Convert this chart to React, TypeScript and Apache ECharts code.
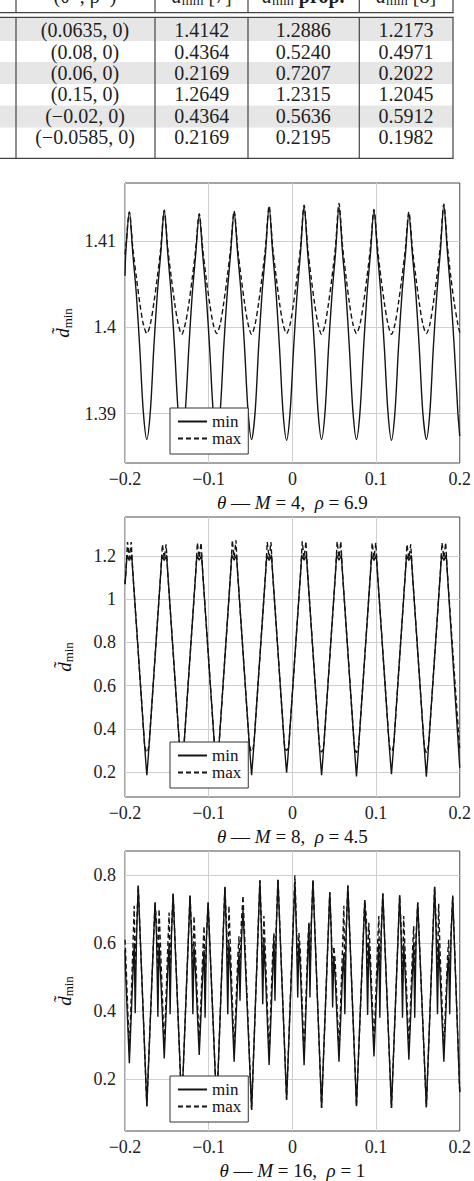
import React, { useEffect, useRef } from 'react';
import * as echarts from 'echarts';

const FONT = 'Liberation Serif';
const INK = '#141414';

// ---------- table (top of page) ----------
const tableHeaders = ['(θ*, ρ*)', '{i|d̃}{s|min} [7]', '{i|d̃}{s|min} {b|prop.}', '{i|d̃}{s|min} [8]'];
const tableCoords = ['(0.0635, 0)', '(0.08, 0)', '(0.06, 0)', '(0.15, 0)', '(−0.02, 0)', '(−0.0585, 0)'];
const tableColA = ['1.4142', '0.4364', '0.2169', '1.2649', '0.4364', '0.2169'];
const tableColB = ['1.2886', '0.5240', '0.7207', '1.2315', '0.5636', '0.2195'];
const tableColC = ['1.2173', '0.4971', '0.2022', '1.2045', '0.5912', '0.1982'];

// ---------- panel 1 : M = 4, rho = 6.9 ----------
const theta1 = [
  -0.2000, -0.1990, -0.1948, -0.1906, -0.1864, -0.1823, -0.1781, -0.1739,
  -0.1697, -0.1656, -0.1614, -0.1572, -0.1531, -0.1489, -0.1447, -0.1406, -0.1364, -0.1322,
  -0.1280, -0.1238, -0.1197, -0.1155, -0.1113, -0.1071, -0.1030, -0.0988, -0.0946, -0.0904,
  -0.0862, -0.0821, -0.0779, -0.0738, -0.0696, -0.0654, -0.0612, -0.0571, -0.0529, -0.0487,
  -0.0445, -0.0404, -0.0362, -0.0320, -0.0278, -0.0236, -0.0194, -0.0153, -0.0111, -0.0069,
  -0.0027, 0.0014, 0.0056, 0.0098, 0.0140, 0.0182, 0.0223, 0.0265, 0.0307, 0.0349,
  0.0391, 0.0432, 0.0474, 0.0516, 0.0557, 0.0599, 0.0641, 0.0682, 0.0724, 0.0766,
  0.0808, 0.0850, 0.0891, 0.0933, 0.0975, 0.1017, 0.1058, 0.1100, 0.1142, 0.1184,
  0.1226, 0.1267, 0.1309, 0.1351, 0.1392, 0.1434, 0.1476, 0.1517, 0.1559, 0.1601,
  0.1643, 0.1684, 0.1726, 0.1768, 0.1810, 0.1852, 0.1893, 0.1935, 0.1977, 0.2000,
];
const min1 = [
  1.4060, 1.4088, 1.4134, 1.4085, 1.4038, 1.3975, 1.3902, 1.3870,
  1.3903, 1.3976, 1.4039, 1.4087, 1.4136, 1.4086, 1.4037, 1.3974, 1.3901, 1.3869,
  1.3902, 1.3975, 1.4038, 1.4085, 1.4131, 1.4084, 1.4038, 1.3975, 1.3902, 1.3870,
  1.3903, 1.3976, 1.4039, 1.4086, 1.4134, 1.4086, 1.4039, 1.3976, 1.3902, 1.3870,
  1.3902, 1.3976, 1.4040, 1.4088, 1.4140, 1.4088, 1.4039, 1.3975, 1.3901, 1.3869,
  1.3902, 1.3975, 1.4039, 1.4088, 1.4141, 1.4088, 1.4039, 1.3976, 1.3902, 1.3870,
  1.3903, 1.3976, 1.4039, 1.4087, 1.4140, 1.4087, 1.4039, 1.3975, 1.3902, 1.3870,
  1.3902, 1.3975, 1.4038, 1.4086, 1.4136, 1.4086, 1.4038, 1.3975, 1.3902, 1.3869,
  1.3902, 1.3975, 1.4038, 1.4085, 1.4132, 1.4085, 1.4038, 1.3975, 1.3901, 1.3870,
  1.3902, 1.3976, 1.4039, 1.4088, 1.4142, 1.4088, 1.4039, 1.3976, 1.3902, 1.3874,
];
const max1 = [
  1.4085, 1.4094, 1.4134, 1.4092, 1.4058, 1.4028, 1.4004, 1.3993,
  1.4004, 1.4028, 1.4058, 1.4093, 1.4136, 1.4092, 1.4058, 1.4028, 1.4004, 1.3992,
  1.4004, 1.4027, 1.4057, 1.4091, 1.4132, 1.4091, 1.4057, 1.4028, 1.4004, 1.3993,
  1.4004, 1.4028, 1.4058, 1.4092, 1.4135, 1.4092, 1.4058, 1.4028, 1.4004, 1.3992,
  1.4004, 1.4028, 1.4059, 1.4094, 1.4141, 1.4094, 1.4059, 1.4028, 1.4004, 1.3993,
  1.4004, 1.4028, 1.4059, 1.4094, 1.4142, 1.4094, 1.4059, 1.4028, 1.4004, 1.3992,
  1.4004, 1.4028, 1.4059, 1.4095, 1.4144, 1.4095, 1.4059, 1.4028, 1.4004, 1.3993,
  1.4004, 1.4028, 1.4058, 1.4093, 1.4137, 1.4093, 1.4058, 1.4028, 1.4004, 1.3992,
  1.4004, 1.4028, 1.4058, 1.4092, 1.4134, 1.4092, 1.4058, 1.4028, 1.4004, 1.3993,
  1.4004, 1.4028, 1.4059, 1.4095, 1.4143, 1.4095, 1.4059, 1.4028, 1.4004, 1.3994,
];
const yTicks1 = [1.39, 1.4, 1.41];

// ---------- panel 2 : M = 8, rho = 4.5 ----------
const theta2 = [
  -0.2000, -0.1990, -0.1976, -0.1970, -0.1948, -0.1926, -0.1920, -0.1906, -0.1767, -0.1752, -0.1739,
  -0.1726, -0.1711, -0.1573, -0.1559, -0.1553, -0.1531, -0.1509, -0.1503, -0.1489, -0.1350, -0.1335, -0.1322,
  -0.1309, -0.1294, -0.1155, -0.1141, -0.1135, -0.1113, -0.1091, -0.1085, -0.1071, -0.0932, -0.0917, -0.0904,
  -0.0891, -0.0876, -0.0738, -0.0724, -0.0718, -0.0696, -0.0674, -0.0668, -0.0654, -0.0515, -0.0500, -0.0487,
  -0.0474, -0.0459, -0.0320, -0.0306, -0.0300, -0.0278, -0.0256, -0.0250, -0.0236, -0.0097, -0.0082, -0.0069,
  -0.0056, -0.0041, 0.0098, 0.0112, 0.0118, 0.0140, 0.0162, 0.0168, 0.0182, 0.0321, 0.0336, 0.0349,
  0.0362, 0.0377, 0.0515, 0.0529, 0.0535, 0.0557, 0.0579, 0.0585, 0.0599, 0.0738, 0.0753, 0.0766,
  0.0779, 0.0794, 0.0933, 0.0947, 0.0953, 0.0975, 0.0997, 0.1003, 0.1017, 0.1156, 0.1171, 0.1184,
  0.1197, 0.1212, 0.1350, 0.1364, 0.1370, 0.1392, 0.1414, 0.1420, 0.1434, 0.1573, 0.1588, 0.1601,
  0.1614, 0.1629, 0.1768, 0.1782, 0.1788, 0.1810, 0.1832, 0.1838, 0.1852, 0.2000,
];
const min2 = [
  1.070, 1.121, 1.205, 1.198, 1.180, 1.198, 1.206, 1.121, 0.330, 0.250, 0.185,
  0.250, 0.330, 1.121, 1.204, 1.197, 1.180, 1.198, 1.205, 1.121, 0.330, 0.248, 0.180,
  0.250, 0.330, 1.121, 1.205, 1.198, 1.181, 1.198, 1.205, 1.121, 0.330, 0.250, 0.182,
  0.250, 0.330, 1.121, 1.206, 1.199, 1.180, 1.199, 1.206, 1.121, 0.330, 0.252, 0.185,
  0.252, 0.330, 1.121, 1.205, 1.198, 1.180, 1.198, 1.205, 1.121, 0.332, 0.258, 0.197,
  0.255, 0.332, 1.121, 1.206, 1.198, 1.181, 1.198, 1.206, 1.121, 0.330, 0.250, 0.185,
  0.250, 0.330, 1.121, 1.206, 1.199, 1.180, 1.199, 1.206, 1.121, 0.330, 0.248, 0.180,
  0.248, 0.330, 1.121, 1.205, 1.198, 1.180, 1.198, 1.205, 1.121, 0.330, 0.252, 0.190,
  0.252, 0.330, 1.121, 1.204, 1.197, 1.180, 1.197, 1.204, 1.121, 0.330, 0.247, 0.178,
  0.247, 0.330, 1.121, 1.205, 1.198, 1.180, 1.198, 1.205, 1.121, 0.220,
];
const max2 = [
  1.070, 1.121, 1.222, 1.265, 1.190, 1.265, 1.222, 1.121, 0.330, 0.300, 0.290,
  0.300, 0.330, 1.121, 1.218, 1.254, 1.188, 1.254, 1.218, 1.121, 0.330, 0.300, 0.292,
  0.300, 0.330, 1.121, 1.221, 1.262, 1.190, 1.262, 1.221, 1.121, 0.330, 0.300, 0.290,
  0.300, 0.330, 1.121, 1.225, 1.273, 1.192, 1.273, 1.225, 1.121, 0.330, 0.302, 0.295,
  0.302, 0.330, 1.121, 1.222, 1.265, 1.190, 1.265, 1.222, 1.121, 0.332, 0.305, 0.300,
  0.305, 0.332, 1.121, 1.223, 1.268, 1.190, 1.268, 1.223, 1.121, 0.330, 0.300, 0.292,
  0.300, 0.330, 1.121, 1.223, 1.268, 1.191, 1.268, 1.223, 1.121, 0.330, 0.300, 0.290,
  0.300, 0.330, 1.121, 1.221, 1.262, 1.190, 1.262, 1.221, 1.121, 0.330, 0.302, 0.295,
  0.302, 0.330, 1.121, 1.218, 1.254, 1.188, 1.254, 1.218, 1.121, 0.330, 0.300, 0.290,
  0.300, 0.330, 1.121, 1.221, 1.262, 1.190, 1.262, 1.221, 1.121, 0.300,
];
const yTicks2 = [0.2, 0.4, 0.6, 0.8, 1, 1.2];

// ---------- panel 3 : M = 16, rho = 1 ----------
const theta3 = [
  -0.2000, -0.1994, -0.1948, -0.1904, -0.1890, -0.1878, -0.1862, -0.1842, -0.1739,
  -0.1641, -0.1623, -0.1607, -0.1593, -0.1577, -0.1531, -0.1487, -0.1473, -0.1461, -0.1445, -0.1425, -0.1322,
  -0.1223, -0.1205, -0.1189, -0.1175, -0.1159, -0.1113, -0.1069, -0.1055, -0.1043, -0.1027, -0.1007, -0.0904,
  -0.0806, -0.0788, -0.0772, -0.0758, -0.0742, -0.0696, -0.0652, -0.0638, -0.0626, -0.0610, -0.0590, -0.0487,
  -0.0388, -0.0370, -0.0354, -0.0340, -0.0324, -0.0278, -0.0234, -0.0220, -0.0208, -0.0192, -0.0172, -0.0069,
  0.0030, 0.0048, 0.0064, 0.0078, 0.0094, 0.0140, 0.0184, 0.0198, 0.0210, 0.0226, 0.0246, 0.0349,
  0.0447, 0.0465, 0.0481, 0.0495, 0.0511, 0.0557, 0.0601, 0.0615, 0.0627, 0.0643, 0.0663, 0.0766,
  0.0865, 0.0883, 0.0899, 0.0913, 0.0929, 0.0975, 0.1019, 0.1033, 0.1045, 0.1061, 0.1081, 0.1184,
  0.1282, 0.1300, 0.1316, 0.1330, 0.1346, 0.1392, 0.1436, 0.1450, 0.1462, 0.1478, 0.1498, 0.1601,
  0.1700, 0.1718, 0.1734, 0.1748, 0.1764, 0.1810, 0.1854, 0.1868, 0.1880, 0.1896, 0.1916, 0.2000,
];
const min3 = [
  0.58, 0.52, 0.246, 0.52, 0.60, 0.393, 0.62, 0.77, 0.119,
  0.72, 0.62, 0.383, 0.60, 0.52, 0.26, 0.53, 0.60, 0.39, 0.62, 0.746, 0.115,
  0.74, 0.62, 0.39, 0.59, 0.52, 0.27, 0.52, 0.58, 0.38, 0.61, 0.72, 0.112,
  0.766, 0.63, 0.39, 0.60, 0.53, 0.25, 0.50, 0.57, 0.43, 0.60, 0.70, 0.109,
  0.785, 0.64, 0.42, 0.61, 0.52, 0.241, 0.52, 0.61, 0.43, 0.64, 0.787, 0.138,
  0.78, 0.64, 0.44, 0.60, 0.53, 0.24, 0.56, 0.66, 0.44, 0.65, 0.785, 0.114,
  0.75, 0.63, 0.41, 0.56, 0.50, 0.25, 0.52, 0.57, 0.39, 0.63, 0.77, 0.119,
  0.727, 0.62, 0.388, 0.60, 0.53, 0.266, 0.53, 0.60, 0.38, 0.62, 0.746, 0.114,
  0.741, 0.62, 0.38, 0.60, 0.52, 0.256, 0.52, 0.60, 0.38, 0.61, 0.72, 0.116,
  0.766, 0.63, 0.39, 0.60, 0.51, 0.25, 0.52, 0.56, 0.39, 0.62, 0.736, 0.16,
];
const max3 = [
  0.61, 0.58, 0.28, 0.60, 0.71, 0.52, 0.64, 0.77, 0.119,
  0.72, 0.66, 0.50, 0.70, 0.60, 0.29, 0.60, 0.69, 0.50, 0.64, 0.746, 0.115,
  0.74, 0.64, 0.50, 0.68, 0.58, 0.30, 0.58, 0.65, 0.48, 0.62, 0.72, 0.112,
  0.766, 0.66, 0.50, 0.71, 0.60, 0.28, 0.56, 0.62, 0.50, 0.66, 0.74, 0.109,
  0.785, 0.66, 0.52, 0.68, 0.58, 0.27, 0.58, 0.63, 0.50, 0.66, 0.79, 0.138,
  0.80, 0.66, 0.52, 0.63, 0.58, 0.27, 0.60, 0.66, 0.50, 0.66, 0.787, 0.114,
  0.75, 0.64, 0.50, 0.59, 0.55, 0.28, 0.60, 0.71, 0.48, 0.64, 0.77, 0.119,
  0.727, 0.68, 0.50, 0.66, 0.58, 0.30, 0.60, 0.68, 0.48, 0.63, 0.746, 0.114,
  0.741, 0.64, 0.48, 0.68, 0.58, 0.29, 0.58, 0.65, 0.48, 0.62, 0.72, 0.116,
  0.766, 0.66, 0.50, 0.716, 0.58, 0.28, 0.56, 0.61, 0.48, 0.63, 0.74, 0.16,
];
const yTicks3 = [0.2, 0.4, 0.6, 0.8];

const seriesNames = ['min', 'max'];
const panelTitles = [
  '{i|θ} — {i|M} = 4,  {i|ρ} = 6.9',
  '{i|θ} — {i|M} = 8,  {i|ρ} = 4.5',
  '{i|θ} — {i|M} = 16,  {i|ρ} = 1',
];

const zip = (xs: number[], ys: number[]) => xs.map((x, i) => [x, ys[i]]);

function buildOption() {
  const panels = [
    { top: 183, yMin: 1.38427, yMax: 1.41677, ticks: yTicks1, xs: theta1, mn: min1, mx: max1, smooth: 0.3 },
    { top: 517, yMin: 0.0843, yMax: 1.3806, ticks: yTicks2, xs: theta2, mn: min2, mx: max2, smooth: false },
    { top: 851, yMin: 0.046, yMax: 0.8716, ticks: yTicks3, xs: theta3, mn: min3, mx: max3, smooth: false },
  ];
  const labelStyle = { fontFamily: FONT, fontSize: 18, color: '#222' };
  const gridLine = { show: true, lineStyle: { color: '#cfcfcf', width: 1 } };

  const grid = panels.map((p) => ({
    left: 125, top: p.top, width: 338, height: 280,
    show: true, borderColor: '#4a4a4a', borderWidth: 1, backgroundColor: 'transparent',
  }));
  const xAxis = panels.map((p, i) => ({
    type: 'value', gridIndex: i, min: -0.2, max: 0.2, interval: 0.1,
    axisLine: { show: false }, axisTick: { show: false }, splitLine: gridLine,
    axisLabel: {
      ...labelStyle, margin: 7,
      formatter: (v: number) => {
        const r = Math.round(v * 10) / 10;
        return r < 0 ? '−' + String(-r) : String(Math.abs(r));
      },
    },
    name: panelTitles[i], nameLocation: 'middle', nameGap: 30,
    nameTextStyle: {
      fontFamily: FONT, fontSize: 19, color: '#111',
      rich: { i: { fontFamily: FONT, fontSize: 19, fontStyle: 'italic', color: '#111' } },
    },
  }));
  const yAxis = panels.map((p, i) => ({
    type: 'value', gridIndex: i, min: p.yMin, max: p.yMax,
    axisLine: { show: false },
    axisTick: { show: false, customValues: p.ticks },
    splitLine: gridLine,
    axisLabel: {
      ...labelStyle, margin: 9, customValues: p.ticks,
      formatter: (v: number) => String(+(+v).toFixed(2)),
    },
    name: '{d|d\u0303}{s|min}', nameLocation: 'middle', nameRotate: 90, nameGap: 50,
    nameTextStyle: {
      fontFamily: FONT, color: '#111',
      rich: {
        d: { fontFamily: FONT, fontSize: 19, fontStyle: 'italic', color: '#111', lineHeight: 22, verticalAlign: 'middle' },
        s: { fontFamily: FONT, fontSize: 13, color: '#111', lineHeight: 13, verticalAlign: 'bottom' },
      },
    },
  }));
  const series: any[] = [];
  panels.forEach((p, i) => {
    series.push({
      type: 'line', name: seriesNames[0], xAxisIndex: i, yAxisIndex: i,
      data: zip(p.xs, p.mn), symbol: 'none', silent: true, z: 3, smooth: p.smooth,
      lineStyle: { color: INK, width: 1.4 }, itemStyle: { color: INK },
    });
    series.push({
      type: 'line', name: seriesNames[1], xAxisIndex: i, yAxisIndex: i,
      data: zip(p.xs, p.mx), symbol: 'none', silent: true, z: 3, smooth: p.smooth,
      lineStyle: { color: INK, width: 1.4, type: [5, 3] }, itemStyle: { color: INK },
    });
  });
  const legend = panels.map((p) => ({
    data: seriesNames, orient: 'vertical', left: 170, top: p.top + 225,
    padding: [5, 7, 7, 7], itemGap: 0, itemWidth: 29, itemHeight: 17,
    backgroundColor: '#fff', borderColor: '#333', borderWidth: 1, borderRadius: 0,
    selectedMode: false,
    itemStyle: { opacity: 0 },
    textStyle: { fontFamily: FONT, fontSize: 17, color: '#111', lineHeight: 17 },
  }));

  // table graphics
  const g: any[] = [];
  const colX = [16, 155, 248, 359.3, 453];
  const colC = [85, 201.7, 303.3, 406];
  const rowY = [30, 51.7, 72.7, 94.3, 116, 136.7];
  [[18, 41], [62, 84], [105.5, 127.5]].forEach(([a, b]) => {
    g.push({ type: 'rect', z: 0, shape: { x: 0, y: a, width: 453, height: b - a }, style: { fill: '#e6e6e6' } });
  });
  const ln = (x1: number, y1: number, x2: number, y2: number) =>
    g.push({ type: 'line', z: 2, shape: { x1, y1, x2, y2 }, style: { stroke: '#444', lineWidth: 1.2 } });
  ln(0, 12.7, 453.6, 12.7);
  ln(0, 17.3, 453.6, 17.3);
  ln(0, 158.3, 453.6, 158.3);
  colX.forEach((x) => { ln(x, 0, x, 12.7); ln(x, 17.3, x, 158.3); });
  const txtStyle = { fontFamily: FONT, fontSize: 20, fill: '#1e1e1e', align: 'center', verticalAlign: 'middle' };
  tableHeaders.forEach((t, c) => {
    g.push({
      type: 'text', z: 3, x: colC[c], y: -4,
      style: {
        ...txtStyle, text: t,
        rich: {
          i: { fontFamily: FONT, fontSize: 20, fontStyle: 'italic', fill: '#1e1e1e' },
          s: { fontFamily: FONT, fontSize: 14, fill: '#1e1e1e', padding: [8, 0, 0, 0] },
          b: { fontFamily: FONT, fontSize: 20, fontWeight: 'bold', fill: '#1e1e1e' },
        },
      },
    });
  });
  const cols = [tableCoords, tableColA, tableColB, tableColC];
  cols.forEach((col, c) => {
    col.forEach((t, r) => {
      g.push({ type: 'text', z: 3, x: colC[c], y: rowY[r], style: { ...txtStyle, text: t } });
    });
  });

  return {
    animation: false,
    backgroundColor: '#fff',
    textStyle: { fontFamily: FONT },
    grid, xAxis, yAxis, series, legend,
    graphic: { elements: g },
  };
}

export default function App() {
  const ref = useRef<HTMLDivElement>(null);
  useEffect(() => {
    const chart = echarts.init(ref.current!, null, { renderer: 'svg' });
    chart.setOption(buildOption() as any);
    return () => chart.dispose();
  }, []);
  return (
    <div
      ref={ref}
      style={{ position: 'absolute', left: 0, top: 0, width: 474, height: 1181, background: '#fff' }}
    />
  );
}
